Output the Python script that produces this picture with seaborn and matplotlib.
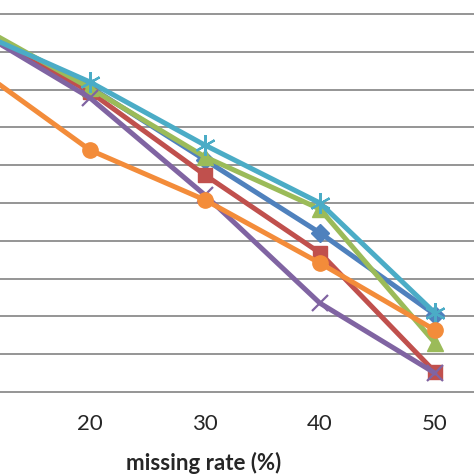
import pandas as pd
import matplotlib
matplotlib.use("Agg")
import matplotlib.pyplot as plt
import seaborn as sns

# missing rate categories (the first one sits outside the cropped view)
rates = ["10", "20", "30", "40", "50"]

# series values, in gridline units (axis line = 0, one unit per gridline)
s_blue = [9.60, 8.07, 6.14, 4.21, 2.05]
s_red = [9.58, 7.94, 5.74, 3.68, 0.53]
s_green = [9.74, 8.04, 6.22, 4.84, 1.30]
s_purple = [9.60, 7.78, 5.21, 2.35, 0.50]
s_teal = [9.55, 8.20, 6.53, 5.00, 2.09]
s_orange = [8.60, 6.40, 5.08, 3.41, 1.64]

series = [
    ("blue", s_blue, "#4F81BD", "D", 9, 1),
    ("red", s_red, "#C0504D", "s", 10, 1),
    ("green", s_green, "#9BBB59", "^", 11, 1),
    ("purple", s_purple, "#8064A2", "x", 12, 1.6),
    ("teal", s_teal, "#4BACC6", (6, 2, 0), 15, 1.6),
    ("orange", s_orange, "#F38C3A", "o", 11, 1),
]

sns.set_style("white")
plt.rcParams["font.family"] = ["Lato", "DejaVu Sans"]

fig = plt.figure(figsize=(4.74, 4.74), dpi=100)
ax = fig.add_axes([0, 82 / 474, 1, 392 / 474])

for name, vals, col, mk, ms, mew in series:
    df = pd.DataFrame({"rate": rates, "value": vals})
    sns.lineplot(data=df, x="rate", y="value", ax=ax, color=col, marker=mk,
                 markersize=ms, markeredgewidth=mew, markeredgecolor=col,
                 linewidth=3.6, sort=False)

ax.set_xlim(0.217, 4.34)
ax.set_ylim(0, 10.37)
ax.set_yticks(range(1, 11))
ax.yaxis.grid(True, color="#8c8c8c", linewidth=1.3)
ax.set_axisbelow(True)
ax.set_yticklabels([])
ax.tick_params(axis="y", length=0)
ax.set_ylabel("")

for side in ["top", "left", "right"]:
    ax.spines[side].set_visible(False)
ax.spines["bottom"].set_color("#8c8c8c")
ax.spines["bottom"].set_linewidth(1.3)

ax.set_xticks([0.5, 1.5, 2.5, 3.5], minor=True)
ax.tick_params(axis="x", which="minor", length=7, width=1.3, color="#8c8c8c")
ax.tick_params(axis="x", which="major", length=0, labelsize=16, pad=16)

ax.set_xlabel("missing rate (%)", fontsize=16, fontweight="bold")
ax.xaxis.set_label_coords(204 / 474, -0.153)

fig.savefig("out.png", dpi=100)
